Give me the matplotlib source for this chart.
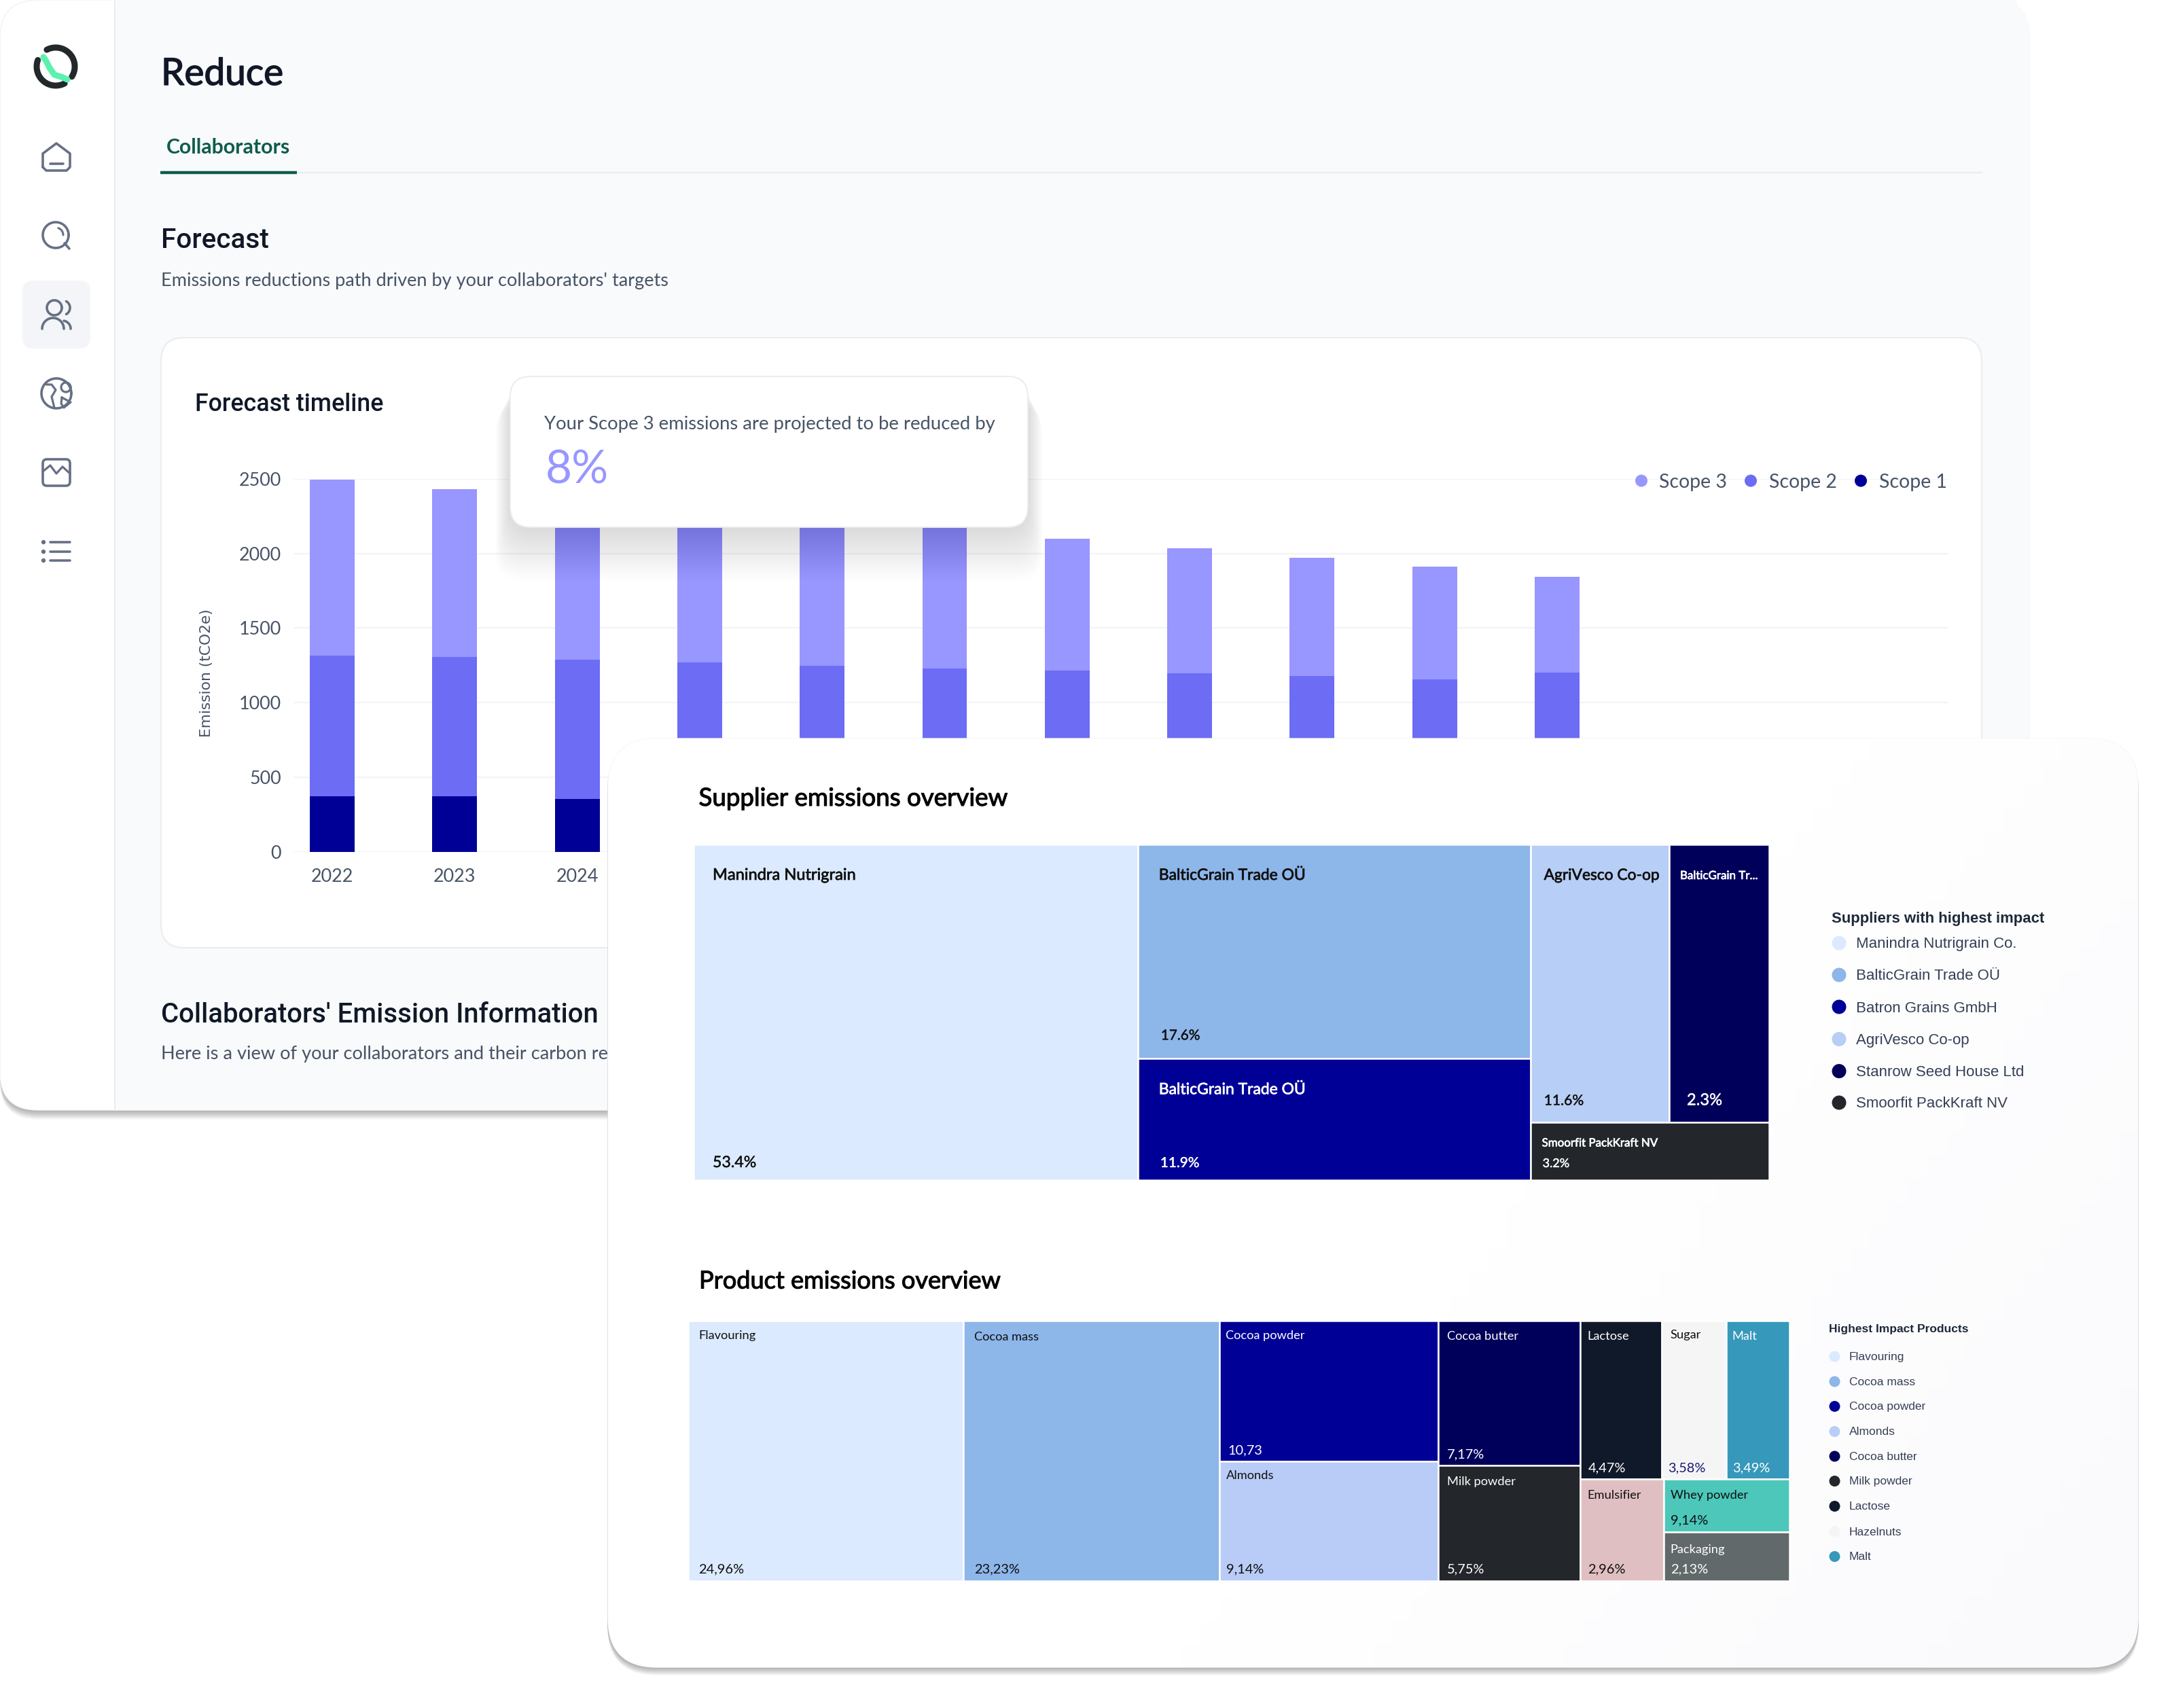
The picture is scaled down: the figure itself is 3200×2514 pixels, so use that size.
import numpy as np
import matplotlib
matplotlib.use('Agg')
import matplotlib.pyplot as plt
from matplotlib.colors import LinearSegmentedColormap
from matplotlib.font_manager import FontProperties
from matplotlib.patches import Circle, FancyBboxPatch, Rectangle
from matplotlib.patheffects import withStroke
from matplotlib.textpath import TextPath

W, H = 3200, 2514

# forecast bars
years = ['2022', '2023', '2024', '2025', '2026', '2027', '2028', '2029', '2030', '2031', '2032']
scope1 = [373, 373, 355, 345, 335, 325, 315, 305, 295, 285, 300]
scope2 = [943, 933, 933, 925, 913, 906, 898, 890, 882, 871, 903]
scope3 = [1178, 1123, 1072, 1025, 982, 939, 885, 839, 794, 756, 642]
y_ticks = [0, 500, 1000, 1500, 2000, 2500]
scope_names = ['Scope 3', 'Scope 2', 'Scope 1']

# supplier treemap
supplier_names = ['Manindra Nutrigrain', 'BalticGrain Trade OÜ', 'BalticGrain Trade OÜ', 'AgriVesco Co-op',
                  'BalticGrain Tr...', 'Smoorfit PackKraft NV']
supplier_labels = ['53.4%', '17.6%', '11.9%', '11.6%', '2.3%', '3.2%']
supplier_area = [41.3, 23.3, 13.2, 10.7, 7.7, 3.8]
supplier_tree = [0, [1, 2], [[3, 4], 5]]
supplier_legend = ['Manindra Nutrigrain Co.', 'BalticGrain Trade OÜ', 'Batron Grains GmbH', 'AgriVesco Co-op',
                   'Stanrow Seed House Ltd', 'Smoorfit PackKraft NV']

# product treemap
product_names = ['Flavouring', 'Cocoa mass', 'Cocoa powder', 'Almonds', 'Cocoa butter', 'Milk powder', 'Lactose',
                 'Sugar', 'Malt', 'Emulsifier', 'Whey powder', 'Packaging']
product_labels = ['24,96%', '23,23%', '10,73', '9,14%', '7,17%', '5,75%', '4,47%', '3,58%', '3,49%', '2,96%',
                  '9,14%', '2,13%']
product_area = [24.96, 23.23, 10.73, 9.14, 7.17, 5.75, 4.47, 3.58, 3.49, 2.96, 2.33, 2.13]
product_tree = [0, 1, [2, 3], [4, 5], [[6, 7, 8], [9, [10, 11]]]]
product_legend = ['Flavouring', 'Cocoa mass', 'Cocoa powder', 'Almonds', 'Cocoa butter', 'Milk powder', 'Lactose',
                  'Hazelnuts', 'Malt']

# colours
C_S1, C_S2, C_S3 = '#000096', '#6C6CF5', '#9896FF'
INK, GREY, LINE, ICON = '#101828', '#475467', '#EAECF0', '#667085'
supplier_colors = ['#DBEAFE', '#8DB6E9', '#000096', '#B7CEF6', '#00005A', '#23262B']
supplier_text = ['#101010', '#101010', 'white', '#101010', 'white', 'white']
supplier_dots = ['#DBEAFE', '#8DB6E9', '#000096', '#B7CEF6', '#00005A', '#23262B']
product_colors = ['#DBEAFE', '#8DB6E9', '#000096', '#B9CCF7', '#00005A', '#23262B', '#10192A', '#F5F5F6', '#3698BA',
                  '#E0BFC2', '#4CC7BA', '#62696B']
product_text = ['#101010', '#101010', 'white', '#101010', 'white', 'white', 'white', '#101010', 'white', '#101010',
                '#101010', 'white']
product_pct_text = list(product_text)
product_pct_text[7] = '#1A1A70'
product_dots = ['#DBEAFE', '#8DB6E9', '#000096', '#B7CEF6', '#00005A', '#23262B', '#10192A', '#F5F5F6', '#3698BA']


def fit(s, px, family='Lato', weight='normal'):
    # font size that makes s px pixels wide at dpi 100
    fp = FontProperties(family=family, weight=weight)
    return px * 0.72 / TextPath((0, 0), s, size=1, prop=fp).get_extents().width


def put(ax, x, y, s, px, family='Lato', weight='normal', color=INK, heavy=0, **kw):
    t = ax.text(x, y, s, fontsize=fit(s, px, family, weight), family=family, weight=weight, color=color,
                va='baseline', **kw)
    if heavy:
        t.set_path_effects([withStroke(linewidth=heavy, foreground=color)])
    return t


def px_axes(x0, y0, x1, y1, z, pixel=False):
    ax = fig.add_axes([x0 / W, 1 - y1 / H, (x1 - x0) / W, (y1 - y0) / H], zorder=z)
    ax.patch.set_alpha(0)
    if pixel:
        ax.set_xlim(x0, x1)
        ax.set_ylim(y1, y0)
        ax.axis('off')
    return ax


def box(ax, x0, y0, x1, y1, r, fc, ec='none', lw=0, alpha=1, z=1):
    patch = FancyBboxPatch((x0 + r, y0 + r), x1 - x0 - 2 * r, y1 - y0 - 2 * r,
                           boxstyle=f'round,pad={r},rounding_size={r}', fc=fc, ec=ec, lw=lw, alpha=alpha,
                           zorder=z, clip_on=False)
    ax.add_patch(patch)
    return patch


def stroke(ax, xs, ys, color=ICON, lw=3.6, z=5):
    ax.plot(xs, ys, color=color, lw=lw * 0.72, solid_capstyle='round', solid_joinstyle='round', zorder=z)


def arc(ax, cx, cy, r, a1, a2, color=ICON, lw=3.6, z=5):
    t = np.radians(np.linspace(a1, a2, 60))
    stroke(ax, cx + r * np.cos(t), cy + r * np.sin(t), color, lw, z)


def leaf_sum(node, areas):
    if isinstance(node, int):
        return areas[node]
    return sum(leaf_sum(n, areas) for n in node)


def layout(node, areas, x, y, w, h, horizontal, out):
    # node is a cell index or a list of nodes, direction swaps at each level
    if isinstance(node, int):
        out[node] = (x, y, w, h)
        return
    sizes = [leaf_sum(n, areas) for n in node]
    total = sum(sizes)
    top = y + h
    for n, s in zip(node, sizes):
        if horizontal:
            layout(n, areas, x, y, w * s / total, h, False, out)
            x += w * s / total
        else:
            top -= h * s / total
            layout(n, areas, x, top, w, h * s / total, True, out)


def treemap(ax, tree, areas, colors):
    ax.set_xlim(0, 1)
    ax.set_ylim(0, 1)
    ax.axis('off')
    cells = {}
    layout(tree, areas, 0, 0, 1, 1, True, cells)
    for i, (x, y, w, h) in cells.items():
        ax.add_patch(Rectangle((x, y), w, h, fc=colors[i], ec='white', lw=1.8, clip_on=False))
    return cells


def cell_text(ax, cell, s, fs, color, dx, dy, from_top=True, heavy=0.5):
    x, y, w, h = cell
    yy = y + h if from_top else y
    off = -dy if from_top else dy
    t = ax.annotate(s, (x, yy), xytext=(dx, off), textcoords='offset pixels', fontsize=fs, family='Lato',
                    color=color, va='baseline', annotation_clip=False)
    if heavy:
        t.set_path_effects([withStroke(linewidth=heavy, foreground=color)])


fig = plt.figure(figsize=(W / 100, H / 100), dpi=100, facecolor='white')

# back panel
bg = px_axes(0, 0, W, H, 0, pixel=True)
for k in range(14, 0, -1):
    box(bg, 0, 0 + k, 2987, 1634 + k, 56, '#000000', alpha=0.025, z=0.5)
box(bg, 0, 0, 2987, 1634, 56, 'white', ec='#F2F3F6', lw=1)
bg.add_patch(Rectangle((169, 0), 2800, 1634, fc='#F9FAFB', ec='none', zorder=1.2))
bg.add_patch(FancyBboxPatch((2927, 50), 10, 1534, boxstyle='round,pad=50,rounding_size=50', fc='#F9FAFB', ec='none',
                            zorder=1.2))
bg.plot([169, 169], [0, 1634], color=LINE, lw=1.4, zorder=1.3)

for x, y, s, px, fam, wt, col, heavy in [
    (237, 125, 'Reduce', 173, 'Lato', 'normal', INK, 1.0),
    (245, 225.5, 'Collaborators', 180, 'Lato', 'bold', '#0F5C4E', 0),
    (237, 365, 'Forecast', 155, 'Roboto', 'medium', INK, 0),
    (237, 421, "Emissions reductions path driven by your collaborators' targets", 745, 'Lato', 'normal', GREY, 0),
    (237, 1505, "Collaborators' Emission Information", 640, 'Roboto', 'medium', INK, 0),
    (237, 1559, 'Here is a view of your collaborators and their carbon re', 655, 'Lato', 'normal', GREY, 0),
]:
    put(bg, x, y, s, px, fam, wt, col, heavy, zorder=6)
bg.plot([437, 2917], [254, 254], color=LINE, lw=1.6, zorder=5)
bg.plot([236, 437], [254, 254], color='#0F5C4E', lw=3.2, zorder=5, solid_capstyle='butt')

# card
box(bg, 237, 497, 2917, 1395, 34, 'white', ec=LINE, lw=1.5, z=2)
put(bg, 287, 605, 'Forecast timeline', 274, 'Roboto', 'medium', INK, zorder=6)

# sidebar icons
box(bg, 33, 413, 133, 513, 16, '#F4F5F8', z=2)
arc(bg, 82, 98, 28, 62, 200, '#23282B', 9)
arc(bg, 82, 98, 28, 242, 392, '#23282B', 9)
stroke(bg, [64, 68, 73, 80, 90, 99], [84, 90, 100, 110, 113, 117], '#5CF2AD', 9)
stroke(bg, [63, 63, 83, 103, 103, 98, 68, 63], [246, 226, 211, 226, 246, 251, 251, 246])
stroke(bg, [74, 93], [241, 241])
arc(bg, 82, 346, 19, 0, 360)
arc(bg, 82, 346, 11, -70, 0, lw=3)
stroke(bg, [95, 102], [358, 366])
arc(bg, 80, 453, 11, 0, 360)
arc(bg, 78, 484, 16, 180, 360)
arc(bg, 92, 453, 11, -60, 60)
arc(bg, 92, 484, 12, -80, 0)
arc(bg, 83, 579, 22, 0, 360)
stroke(bg, [68, 76, 82, 76, 80], [566, 566, 574, 584, 600], lw=3.2)
stroke(bg, [91, 104, 94, 90, 91], [585, 592, 600, 594, 585], lw=3.2)
arc(bg, 97, 570, 7, 0, 360, lw=3.2)
box(bg, 63, 676, 103, 715, 6, 'none', ec=ICON, lw=2.6, z=5)
stroke(bg, [63, 74, 83, 92, 103], [694, 685, 697, 687, 697], lw=3.2)
for yy in [798, 812, 825]:
    bg.add_patch(Circle((64, yy), 3.2, fc=ICON, ec='none', zorder=5))
    stroke(bg, [74, 103], [yy, yy])

# forecast chart
ax = px_axes(432, 704.7, 2868, 1254, 1)
x = np.arange(len(years))
s1, s2, s3 = np.array(scope1), np.array(scope2), np.array(scope3)
ax.bar(x, s1, width=0.366, color=C_S1, zorder=3)
ax.bar(x, s2, width=0.366, bottom=s1, color=C_S2, zorder=3)
ax.bar(x, s3, width=0.366, bottom=s1 + s2, color=C_S3, zorder=3)
ax.set_xlim(-57 / 180.3, 2379 / 180.3)
ax.set_ylim(0, 2500)
ax.set_yticks(y_ticks)
# only the first three years show, the front panel covers the rest
ax.set_xticks(x[:3])
ax.set_xticklabels(years[:3])
ax.tick_params(axis='y', length=0, pad=13, labelsize=fit('2500', 60.5), labelcolor=GREY)
ax.tick_params(axis='x', length=0, pad=17, labelsize=fit('2022', 60), labelcolor=GREY)
for lab in ax.get_xticklabels() + ax.get_yticklabels():
    lab.set_family('Lato')
ax.grid(axis='y', color='#F2F4F7', lw=1.6, zorder=0)
ax.grid(axis='x', visible=False)
ax.set_axisbelow(True)
for sp in ax.spines.values():
    sp.set_visible(False)
ax.set_ylabel('Emission (tCO2e)', family='DejaVu Sans', fontsize=fit('Emission (tCO2e)', 185, 'DejaVu Sans'),
              color=GREY)
ax.yaxis.set_label_coords((314 - 432) / 2436, 0.479)

# legend of the bars
top = px_axes(0, 0, W, H, 2, pixel=True)
for cx, tx, name, col in zip([2416, 2577, 2739], [2442, 2604, 2766], scope_names, [C_S3, C_S2, C_S1]):
    top.add_patch(Circle((cx, 707.6), 9, fc=col, ec='none', zorder=3))
    put(top, tx, 718, name, 97, color=GREY, zorder=3)

# tooltip
for k in range(36, 0, -1):
    box(top, 751 - k * 0.6, 554 + k * 1.2, 1513 + k * 0.6, 776 + k * 2.2, 40, '#101828', alpha=0.003, z=4)
box(top, 751, 554, 1513, 776, 30, 'white', ec=LINE, lw=1.4, z=5)
put(top, 801, 632, 'Your Scope 3 emissions are projected to be reduced by', 664, color=GREY, zorder=6)
put(top, 803, 711, '8%', 87, color=C_S3, zorder=6)

# front panel
for k in range(12, 0, -1):
    box(top, 895 - 1, 1087 + k, 3147 + 1, 2454 + k, 72, '#000000', alpha=0.028, z=7)
front = box(top, 895, 1087, 3147, 2454, 72, 'white', ec='#F4F5F7', lw=1, z=8)
fade = LinearSegmentedColormap.from_list('fade', ['#FFFFFF', '#FFFFFF', '#FAFAFD'])
shade = np.add.outer(np.linspace(0, 0.45, 40), np.linspace(0, 1, 80))
im = top.imshow(shade, extent=(895, 3147, 2454, 1087), cmap=fade, vmin=0.2, vmax=1.45, aspect='auto', zorder=8.1)
im.set_clip_path(front)
top.set_xlim(0, W)
top.set_ylim(H, 0)
put(top, 1028.5, 1186, 'Supplier emissions overview', 453, color='#050505', heavy=0.8, zorder=9)
put(top, 1029, 1896.5, 'Product emissions overview', 440, color='#050505', heavy=0.8, zorder=9)

# supplier legend
put(top, 2695.5, 1358, 'Suppliers with highest impact', 313, 'Liberation Sans', 'bold', '#1D2939', zorder=9)
fs = fit(supplier_legend[0], 233, 'Liberation Sans')
for name, col, yy in zip(supplier_legend, supplier_dots, [1388, 1435, 1482, 1529.5, 1576.6, 1623]):
    top.add_patch(Circle((2707, yy), 10.5, fc=col, ec='none', zorder=9))
    top.text(2732.5, yy + 7.5, name, fontsize=fs, family='Liberation Sans', color='#344054', va='baseline', zorder=9)

# product legend
put(top, 2692, 1960.7, 'Highest Impact Products', 203, 'Liberation Sans', 'bold', '#1D2939', zorder=9)
fs = fit('Cocoa powder', 111, 'Liberation Sans')
for name, col, yy in zip(product_legend, product_dots, [1996.7, 2033.5, 2070, 2107, 2143.5, 2180, 2217, 2254, 2291]):
    top.add_patch(Circle((2700.5, yy), 8, fc=col, ec='none', zorder=9))
    top.text(2722, yy + 5.5, name, fontsize=fs, family='Liberation Sans', color='#344054', va='baseline', zorder=9)

# supplier treemap
sup_ax = px_axes(1021, 1243, 2604, 1737, 3)
cells = treemap(sup_ax, supplier_tree, supplier_area, supplier_colors)
sup_name_px = [207, 212, 212, 169, 112, 170]
sup_pct_px = [62, 55, 55, 56, 50, 38]
sup_name_off = [(28, 52), (31, 52), (31, 52), (20, 52), (16, 51), (17, 35)]
sup_pct_off = [(28, 19), (34, 28), (33, 19), (20, 26), (26, 26), (18, 19)]
for i, cell in cells.items():
    cell_text(sup_ax, cell, supplier_names[i], fit(supplier_names[i], sup_name_px[i]), supplier_text[i],
              *sup_name_off[i])
    cell_text(sup_ax, cell, supplier_labels[i], fit(supplier_labels[i], sup_pct_px[i]), supplier_text[i],
              *sup_pct_off[i], from_top=False, heavy=0.25)

# product treemap
pro_ax = px_axes(1013, 1944, 2634, 2327, 3)
cells = treemap(pro_ax, product_tree, product_area, product_colors)
name_fs = fit('Cocoa powder', 116)
pct_fs = fit('24,96%', 65)
pro_name_off = [(15, 27), (16, 29), (9, 27), (10, 26), (13, 28), (13, 29), (10, 28), (13, 26), (8, 28), (10, 29),
                (10, 29), (9, 31)]
pro_pct_off = [(15, 12), (16, 12), (13, 10), (10, 12), (13, 10), (13, 12), (11, 11), (10, 11), (9, 11), (11, 12),
               (10, 12), (10, 12)]
for i, cell in cells.items():
    cell_text(pro_ax, cell, product_names[i], name_fs, product_text[i], *pro_name_off[i], heavy=0)
    cell_text(pro_ax, cell, product_labels[i], pct_fs, product_pct_text[i], *pro_pct_off[i], from_top=False, heavy=0)

fig.savefig('out.png', dpi=100, facecolor='white')
